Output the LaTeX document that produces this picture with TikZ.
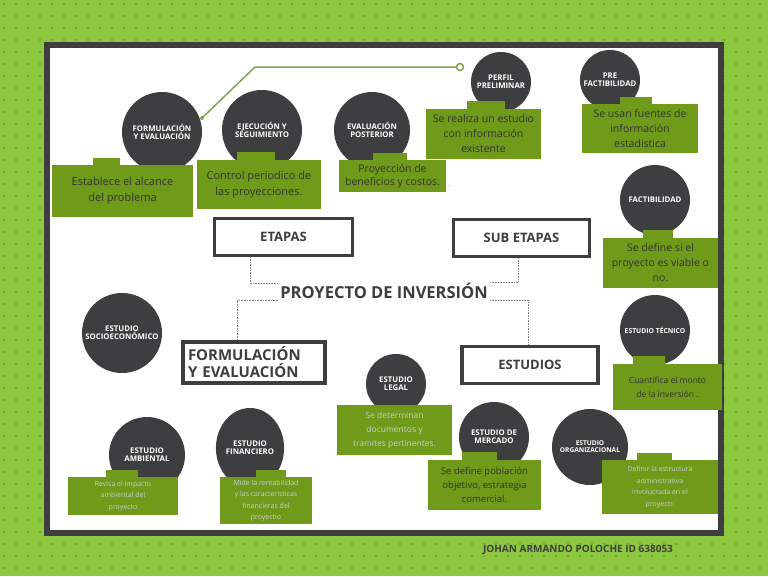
\documentclass[tikz,border=0pt]{standalone}
\usepackage{fontspec}
\usetikzlibrary{shapes.geometric}
\setmainfont{Open Sans}
\definecolor{bg}{HTML}{8DC63F}
\definecolor{dot}{HTML}{5E8A22}
\definecolor{dk}{HTML}{3E3E40}
\definecolor{gb}{HTML}{6F9A1A}
\definecolor{ln}{HTML}{7FA64A}
\tikzset{
 circ/.style={circle,fill=dk,text=white,font=\fontsize{7.8}{8}\selectfont\bfseries,align=center,inner sep=0pt},
 gbx/.style={fill=gb,align=center,inner sep=1pt,font=\fontsize{11}{16}\selectfont,text=black!80},
 sbx/.style={gbx,font=\fontsize{7}{11.5}\selectfont,text=white!80!black},
 frm/.style={draw=dk,line width=3.5pt,fill=white,font=\fontsize{13}{15}\selectfont\bfseries,text=dk},
 dots/.style={densely dotted,draw=gray,line width=0.6pt}
}
\begin{document}
\begin{tikzpicture}[x=1pt,y=-1pt]
\useasboundingbox (0,0) rectangle (768,576);
\fill[bg] (0,0) rectangle (768,576);
\foreach \i in {0,...,63}{\foreach \j in {0,...,47}{\fill[dot] (\i*12+4,\j*12+4) circle (0.9);}}
\fill[dk] (44,42) rectangle (724,536);
\fill[white] (50,48) rectangle (718,530);
% green line
\draw[ln,line width=1.5pt] (202,118) -- (255,67) -- (456,67);
\draw[ln,line width=1.5pt,fill=white] (460,67) circle (3.5);
\fill[ln] (202,118) circle (2);
% circles
\node[circ,minimum size=80] (c1) at (162,132) {FORMULACIÓN\\Y EVALUACIÓN};
\node[circ,minimum size=80] (c2) at (262,130) {EJECUCIÓN Y\\SEGUIMIENTO};
\node[circ,minimum size=76] (c3) at (372,130) {EVALUACIÓN\\POSTERIOR};
\node[circ,minimum size=60] (c4) at (501,82) {PERFIL\\PRELIMINAR};
\node[circ,minimum size=60] (c5) at (610,80) {PRE\\FACTIBILIDAD};
\node[circ,minimum size=70] (c6) at (655,200) {FACTIBILIDAD};
\node[circ,minimum size=80] (c7) at (122,333) {ESTUDIO\\SOCIOECONÓMICO};
\node[circ,minimum size=70,font=\fontsize{6.8}{7}\selectfont\bfseries] (c8) at (655,330) {ESTUDIO TÉCNICO};
\node[circ,minimum size=60] (c9) at (396,384) {ESTUDIO\\LEGAL};
\node[circ,minimum size=76] (c10) at (147,455) {ESTUDIO\\AMBIENTAL};
\node[circ,ellipse,minimum width=66,minimum height=80] (c11) at (250,448) {ESTUDIO\\FINANCIERO};
\node[circ,minimum size=70] (c12) at (494,437) {ESTUDIO DE\\MERCADO};
\node[circ,minimum size=76,font=\fontsize{6.6}{7}\selectfont\bfseries] (c13) at (590,447) {ESTUDIO\\ORGANIZACIONAL};
% tabs
\foreach \a/\b/\c/\d in {93/158/120/166, 237/152/275/161, 373/153/407/161, 467/101/505/110, 620/97/652/105, 643/230/673/239, 633/356/665/365, 462/452/497/461, 637/453/672/461, 106/470/138/478, 256/470/286/478}
 \fill[gb] (\a,\b) rectangle (\c,\d);
% green boxes
\node[gbx,minimum width=141,minimum height=52] (b1) at (122.5,191) {Establece el alcance\\del problema};
\node[gbx,minimum width=124,minimum height=49] (b2) at (259,184.5) {Control periodico de\\las proyecciones.};
\node[gbx,minimum width=107,minimum height=32,font=\fontsize{10.5}{13}\selectfont] (b3) at (392.5,176) {Proyección de\\beneficios y costos.};
\node at (449,186) {\tiny .};
\node[gbx,minimum width=115,minimum height=50,font=\fontsize{10.5}{15}\selectfont] (b4) at (483.5,134) {Se realiza un estudio\\con información\\existente};
\node[gbx,minimum width=116,minimum height=49,font=\fontsize{10.5}{15}\selectfont] (b5) at (640,128.5) {Se usan fuentes de\\información\\estadistica};
\node[gbx,minimum width=115,minimum height=50,font=\fontsize{10.5}{15}\selectfont] (b6) at (660.5,263) {Se define si el\\proyecto es viable o\\no.};
\node[gbx,minimum width=109,minimum height=46,font=\fontsize{8.5}{14}\selectfont] (b7) at (667.5,387) {Cuantifica el monto\\de la inversión .};
\node[gbx,minimum width=115,minimum height=50,font=\fontsize{8.5}{14}\selectfont,text=white!80!black] (b8) at (394.5,430) {Se determinan\\documentos y\\tramites pertinentes.};
\node[gbx,minimum width=113,minimum height=50,font=\fontsize{9.5}{14}\selectfont] (b9) at (484.5,485) {Se define población\\objetivo, estrategia\\comercial.};
\node[sbx,minimum width=116,minimum height=54] (b10) at (660,487) {Definir la estructura\\administrativa\\involucrada en el\\proyecto};
\node[sbx,minimum width=110,minimum height=38] (b11) at (123,496) {Revisa el impacto\\ambiental del\\proyecto};
\node[sbx,minimum width=92,minimum height=47] (b12) at (266,500.5) {Mide la rentabilidad\\y las caracteristicas\\financieras del\\proyectio};
% frame boxes
\node[frm,minimum width=138,minimum height=37] (etapas) at (283.5,237) {ETAPAS};
\node[frm,minimum width=136,minimum height=37] (sub) at (521.5,238) {SUB ETAPAS};
\node[frm,minimum width=142,minimum height=41,text width=132,align=left,font=\fontsize{15}{17}\selectfont\bfseries] (fe) at (254,362.5) {FORMULACIÓN\\Y EVALUACIÓN};
\node[frm,minimum width=136,minimum height=37] (est) at (530,365) {ESTUDIOS};
\node[font=\fontsize{16.5}{18}\selectfont\bfseries,text=dk,inner sep=2pt] (pi) at (384,291) {PROYECTO DE INVERSIÓN};
% dotted connectors
\draw[dots] (etapas.south -| 250,0) -- (250,283) -- (pi.west |- 0,283);
\draw[dots] (sub.south -| 518,0) -- (518,282) -- (pi.east |- 0,282);
\draw[dots] (pi.west |- 0,300) -- (237,300) -- (fe.north -| 237,0);
\draw[dots] (pi.east |- 0,300) -- (528,300) -- (est.north -| 528,0);
\node[font=\fontsize{10}{11}\selectfont\bfseries,text=dk] (auth) at (578,550) {JOHAN ARMANDO POLOCHE ID 638053};
\end{tikzpicture}
\end{document}
